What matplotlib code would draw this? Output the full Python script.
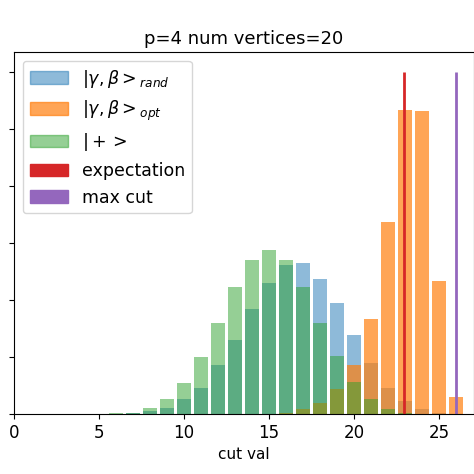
import matplotlib
matplotlib.use("Agg")
import matplotlib.pyplot as plt
from matplotlib.patches import Patch
import numpy as np

cuts = np.arange(6, 27)
rand_vals = [0.005,0.01,0.06,0.11,0.27,0.46,0.86,1.30,1.84,2.29,2.62,2.65,2.36,1.94,1.39,0.89,0.45,0.22,0.09,0.02,0.0]
opt_vals  = [0,0,0,0,0,0,0,0,0,0,0.01,0.09,0.20,0.43,0.86,1.67,3.36,5.34,5.31,2.33,0.30]
plus_vals = [0.01,0.02,0.10,0.26,0.55,1.0,1.60,2.23,2.70,2.87,2.71,2.23,1.60,1.02,0.57,0.26,0.09,0.02,0.0,0.0,0.0]
expectation = 22.92
max_cut = 26.0
ymax_line = 6.0

fig = plt.figure(figsize=(4.74, 4.74), dpi=100)
ax = fig.add_axes([14/474, 60/474, 460/474, 362/474])
ax.bar(cuts, rand_vals, width=0.8, alpha=0.5, color='tab:blue')
ax.bar(cuts, opt_vals, width=0.8, alpha=0.7, color='tab:orange')
ax.bar(cuts, plus_vals, width=0.8, alpha=0.5, color='tab:green')
ax.vlines(expectation, 0, ymax_line, color='tab:red', lw=2)
ax.vlines(max_cut, 0, ymax_line, color='tab:purple', lw=2)
handles = [
    Patch(color='tab:blue', alpha=0.5, label=r'$|\gamma,\beta>_{rand}$'),
    Patch(color='tab:orange', alpha=0.7, label=r'$|\gamma,\beta>_{opt}$'),
    Patch(color='tab:green', alpha=0.5, label=r'$|+>$'),
    Patch(color='tab:red', label='expectation'),
    Patch(color='tab:purple', label='max cut'),
]
ax.legend(handles=handles, loc='upper left', fontsize=12.5, handlelength=2.2)
ax.set_xlim(0, 27.06)
ax.set_ylim(0, 6.35)
ax.set_xticks([0, 5, 10, 15, 20, 25])
ax.set_yticks(np.arange(0, 7))
ax.set_yticklabels([])
ax.tick_params(labelsize=12)
ax.set_xlabel('cut val', fontsize=11)
ax.set_title('p=4 num vertices=20', fontsize=13)
fig.savefig('out.png', dpi=100)
